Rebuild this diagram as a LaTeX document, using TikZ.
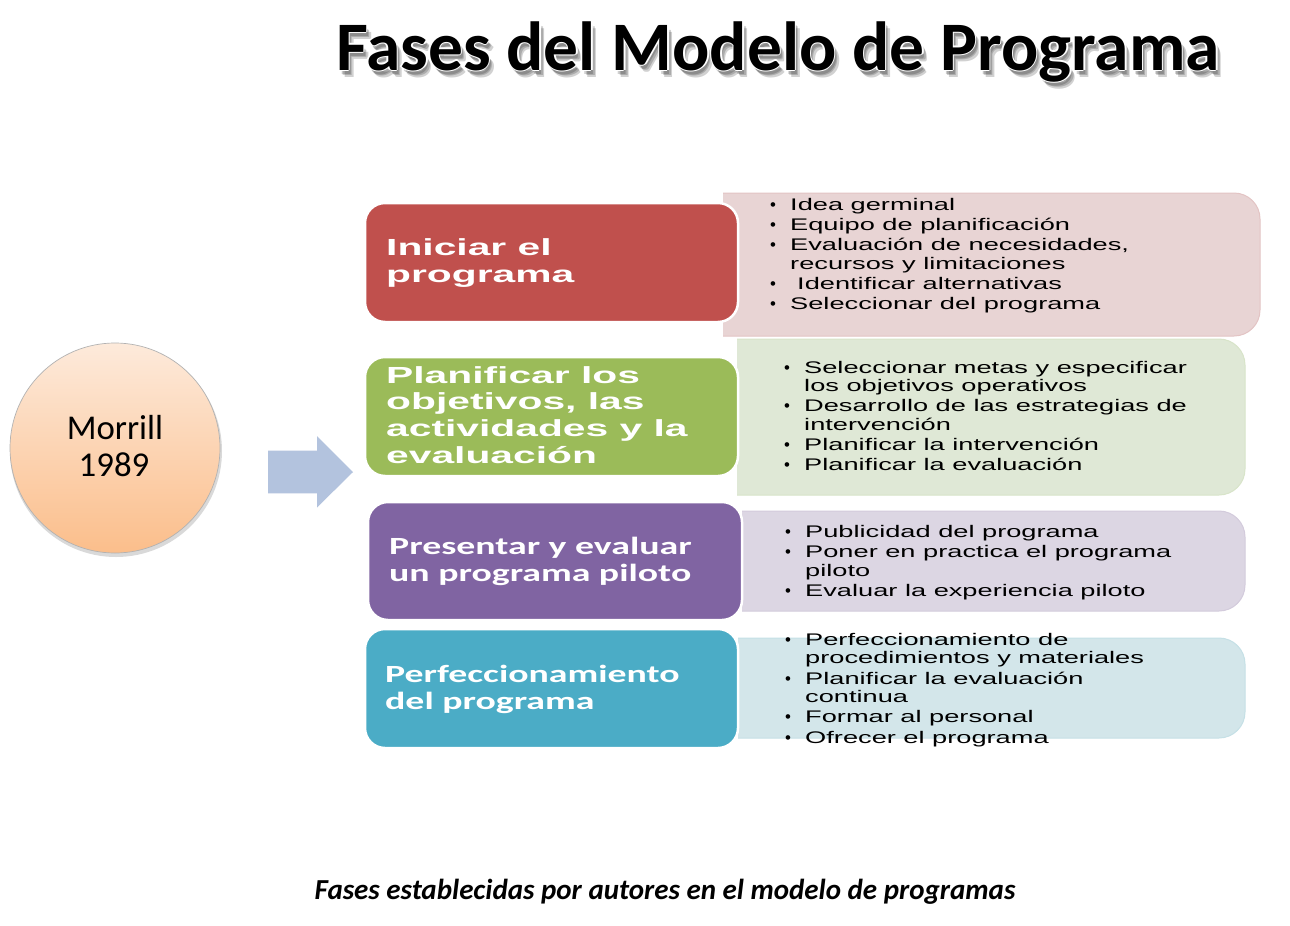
\documentclass[tikz,border=0pt]{standalone}
\usepackage{fontspec}
\setmainfont{Liberation Sans}
\newfontfamily\bulfont[FakeStretch=1.62]{Liberation Sans}
\newfontfamily\lblfont[FakeStretch=1.75]{Liberation Sans}
\newfontfamily\calfont{Carlito}
\newfontfamily\calwfont[FakeStretch=1.53]{Carlito}
\definecolor{cred}{HTML}{C0504D}
\definecolor{cgreen}{HTML}{9BBB59}
\definecolor{cpurple}{HTML}{8064A2}
\definecolor{ccyan}{HTML}{4BACC6}
\definecolor{tred}{HTML}{E8D4D4}
\definecolor{tgreen}{HTML}{DFE8D6}
\definecolor{tpurple}{HTML}{DCD6E3}
\definecolor{tcyan}{HTML}{D3E6EA}
\definecolor{arrowc}{HTML}{B3C3DE}
\definecolor{circtop}{HTML}{FDEADB}
\definecolor{circbot}{HTML}{FBBE8B}
\tikzset{
  lbox/.style={draw=white, line width=2.5pt, rounded corners=20pt, inner sep=0pt},
  lblA/.style={anchor=base west, inner sep=0pt, text=white, font=\lblfont\bfseries\fontsize{23.3}{26.7}\selectfont},
  lblB/.style={anchor=base west, inner sep=0pt, text=white, font=\calwfont\bfseries\fontsize{24.7}{27}\selectfont},
  bultxt/.style={anchor=base west, inner sep=0pt, font=\bulfont\fontsize{16.8}{19.6}\selectfont},
  bulsym/.style={anchor=base, inner sep=0pt, font=\fontsize{16.8}{19.6}\selectfont},
  titlef/.style={anchor=base, inner sep=0pt, font=\calfont\bfseries\fontsize{69.5}{72}\selectfont},
}
\newcommand\rbox[6]{% x1 y1 x2 y2 fill border
  \begin{scope}
    \clip (#1,#2-3) rectangle (#3+3,#4+3);
    \filldraw[fill=#5, draw=#6, line width=1pt, rounded corners=26pt] (#1-40,#2) rectangle (#3,#4);
  \end{scope}}
\newcommand\bullist[3]{%
  \foreach \by/\bq/\bt in {#3} {
    \ifnum\bq=1 \node[bulsym] (s\by) at (#1,\by) {•};\fi
    \node[bultxt] (t\by) at (#2,\by) {\bt};
  }}
\newcommand\ttl[1]{Fases del Modelo de Programa}
\begin{document}
\begin{tikzpicture}[x=1pt,y=-1pt]
\useasboundingbox (0,0) rectangle (1290,926);
\fill[white] (0,0) rectangle (1290,926);

% title with shadow and glow
\foreach \dx/\dy in {2/4,3.5/5.5,5/7}
  \node[titlef, text=black, opacity=0.18] at (778+\dx,70+\dy) {\ttl{}};
\foreach \dx/\dy in {1.6/0,-1.6/0,0/1.6,0/-1.6}
  \node[titlef, text=white] at (778+\dx,70+\dy) {\ttl{}};
\node[titlef, text=black] (title) at (778,70) {\ttl{}};

% circle
\fill[black, opacity=0.15] (116,451) circle (106);
\node[circle, minimum size=210pt, inner sep=0pt, draw=gray!60, line width=0.7pt,
      top color=circtop, bottom color=circbot] (morrill) at (115,448) {};
\node[anchor=base, inner sep=0pt, font=\calfont\fontsize{34.8}{38}\selectfont] (m1) at (115,439.3) {Morrill};
\node[anchor=base, inner sep=0pt, font=\calfont\fontsize{34.8}{38}\selectfont] (m2) at (114,476.7) {1989};

% block arrow
\fill[arrowc] (268,450.5) -- (317,450.5) -- (317,436) -- (353,472) -- (317,507.5) -- (317,493.3) -- (268,493.3) -- cycle;

% right tinted boxes
\rbox{723}{193}{1260}{336}{tred}{tred!88!cred}
\rbox{737}{339}{1245}{495}{tgreen}{tgreen!90!cgreen}
\rbox{742}{511}{1245}{611}{tpurple}{tpurple!90!cpurple}
\rbox{738}{638}{1245}{738}{tcyan}{tcyan!90!ccyan}

% left boxes
\node[lbox, fill=cred, minimum width=373pt, minimum height=119pt] (b1) at (551.5,262.5) {};
\node[lbox, fill=cgreen, minimum width=373pt, minimum height=119pt] (b2) at (551.5,416.5) {};
\node[lbox, fill=cpurple, minimum width=374pt, minimum height=118pt] (b3) at (555,561) {};
\node[lbox, fill=ccyan, minimum width=373pt, minimum height=119pt] (b4) at (551.5,688.5) {};

% labels
\node[lblA] (l11) at (386,255) {Iniciar el};
\node[lblA] (l12) at (386,282) {programa};
\node[lblA] (l21) at (386,383) {Planificar los};
\node[lblA] (l22) at (386,409) {objetivos, las};
\node[lblA] (l23) at (386,436) {actividades y la};
\node[lblA] (l24) at (386,463) {evaluación};
\node[lblB] (l31) at (389,554) {Presentar y evaluar};
\node[lblB] (l32) at (389,581) {un programa piloto};
\node[lblB] (l41) at (385,682) {Perfeccionamiento};
\node[lblB] (l42) at (385,709) {del programa};

% bullet lists
\bullist{773}{790}{210/1/{Idea germinal},230/1/{Equipo de planificación},250/1/{Evaluación de necesidades,},269/0/{recursos y limitaciones},309/1/{Seleccionar del programa}}
\node[bulsym] (s289) at (773,289) {•};
\node[bultxt] (t289) at (797,289) {Identificar alternativas};
\bullist{787}{804}{373/1/{Seleccionar metas y especificar},391/0/{los objetivos operativos},411/1/{Desarrollo de las estrategias de},430/0/{intervención},450/1/{Planificar la intervención},470/1/{Planificar la evaluación}}
\bullist{788}{805}{537/1/{Publicidad del programa},557/1/{Poner en practica el programa},576/0/{piloto},596/1/{Evaluar la experiencia piloto}}
\bullist{788}{805}{645/1/{Perfeccionamiento de},663/0/{procedimientos y materiales},684/1/{Planificar la evaluación},702/0/{continua},722/1/{Formar al personal},743/1/{Ofrecer el programa}}

% caption
\node[anchor=base, inner sep=0pt, font=\calfont\bfseries\itshape\fontsize{29}{32}\selectfont] (cap) at (665,899) {Fases establecidas por autores en el modelo de programas};
\end{tikzpicture}
\end{document}
